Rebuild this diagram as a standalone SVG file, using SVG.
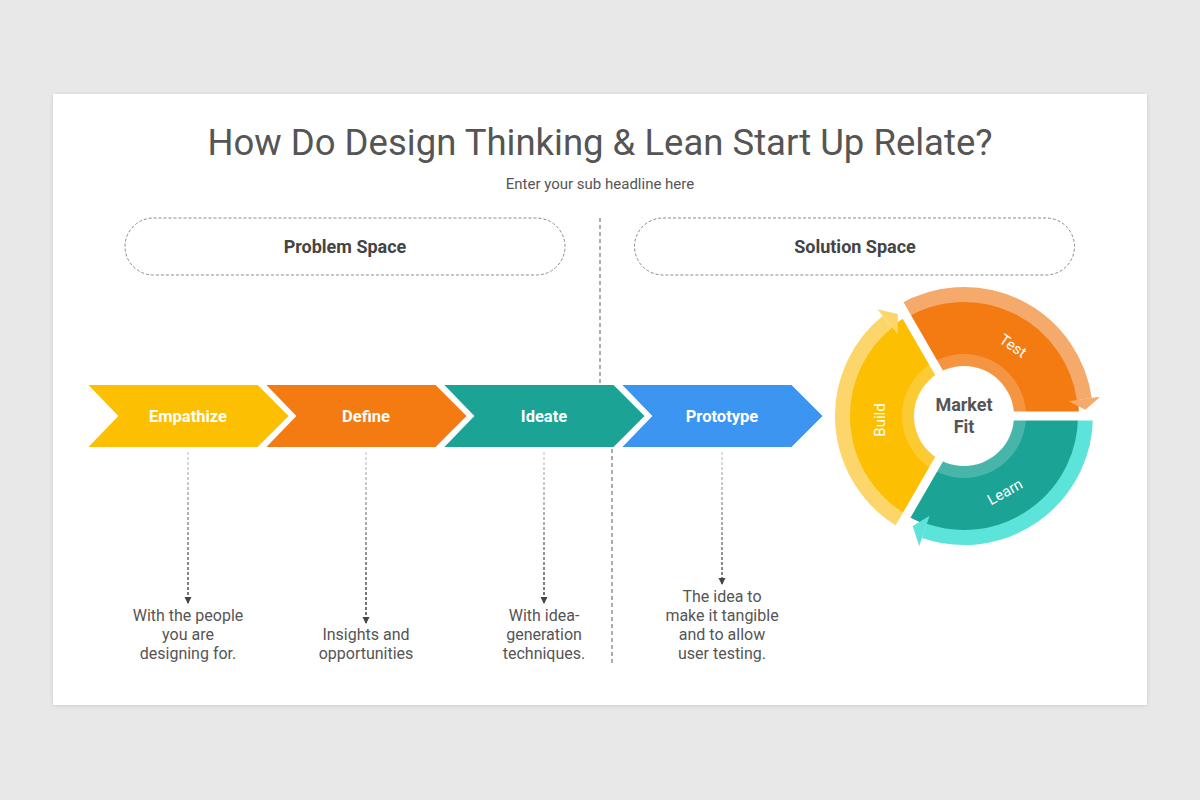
<svg xmlns="http://www.w3.org/2000/svg" width="1200" height="800" viewBox="0 0 1200 800">
  <defs>
    <style>
      .title{font-family:Roboto,"Liberation Sans",sans-serif;font-size:36.5px;fill:#555;text-anchor:middle}
      .sub{font-family:Roboto,"Liberation Sans",sans-serif;font-size:15px;fill:#555;text-anchor:middle}
      .pill{fill:none;stroke:#8a8a8a;stroke-width:1;stroke-dasharray:3 2}
      .pilltxt{font-family:Roboto,"Liberation Sans",sans-serif;font-size:18px;font-weight:bold;fill:#444;text-anchor:middle}
      .chev{stroke:#fff;stroke-width:2}
      .chevtxt{font-family:Roboto,"Liberation Sans",sans-serif;font-size:16.5px;font-weight:bold;fill:#fff;text-anchor:middle}
      .desc{font-family:Roboto,"Liberation Sans",sans-serif;font-size:16px;fill:#555;text-anchor:middle}
      .sep{stroke:#777;stroke-width:1.2;stroke-dasharray:4 3;fill:none}
      .conn{stroke:url(#fade);stroke-width:1.5;stroke-dasharray:3 2;fill:none;marker-end:url(#ah)}
      .band{fill:none;stroke-width:15}
      .gap{stroke:#fff;stroke-width:9}
      .segtxt{font-family:Roboto,"Liberation Sans",sans-serif;font-size:15px;fill:#fff;text-anchor:middle}
      .mf{font-family:Roboto,"Liberation Sans",sans-serif;font-size:18px;font-weight:bold;fill:#555;text-anchor:middle}
    </style>
    <linearGradient id="fade" gradientUnits="userSpaceOnUse" x1="0" y1="450" x2="0" y2="600">
      <stop offset="0" stop-color="#d8d8d8"/>
      <stop offset="1" stop-color="#444"/>
    </linearGradient>
    <marker id="ah" markerWidth="8" markerHeight="8" refX="6" refY="4" orient="auto" markerUnits="userSpaceOnUse">
      <path d="M0,0.5 L7,4 L0,7.5 Z" fill="#444"/>
    </marker>
    <filter id="sh" x="-5%" y="-5%" width="110%" height="110%">
      <feDropShadow dx="0" dy="1" stdDeviation="2" flood-color="#000" flood-opacity="0.12"/>
    </filter>
  </defs>

  <rect x="0" y="0" width="1200" height="800" fill="#e9e8e9"/>
  <rect x="53" y="94" width="1094" height="611" fill="#fff" filter="url(#sh)"/>

  <text class="title" x="600" y="155">How Do Design Thinking &amp; Lean Start Up Relate?</text>
  <text class="sub" x="600" y="189">Enter your sub headline here</text>

  <g id="connectors">
    <line class="sep" x1="600" y1="218" x2="600" y2="383"/>
    <line class="sep" x1="612" y1="449" x2="612" y2="663"/>
    <line class="conn" x1="188" y1="452" x2="188" y2="603"/>
    <line class="conn" x1="366" y1="452" x2="366" y2="623"/>
    <line class="conn" x1="544" y1="452" x2="544" y2="603"/>
    <line class="conn" x1="722" y1="452" x2="722" y2="584"/>
  </g>

  <g id="problem-space">
    <rect class="pill" x="125" y="218" width="440" height="57" rx="28.5"/>
    <text class="pilltxt" x="345" y="252.5">Problem Space</text>
  </g>
  <g id="solution-space">
    <rect class="pill" x="634.5" y="218" width="440" height="57" rx="28.5"/>
    <text class="pilltxt" x="855" y="252.5">Solution Space</text>
  </g>

  <g id="empathize">
    <path class="chev" fill="#fcbf02" d="M86,384 L258,384 L290,416 L258,448 L86,448 L117,416 Z"/>
    <text class="chevtxt" x="188" y="422">Empathize</text>
  </g>
  <g id="define">
    <path class="chev" fill="#f37b12" d="M264,384 L436,384 L468,416 L436,448 L264,448 L295,416 Z"/>
    <text class="chevtxt" x="366" y="422">Define</text>
  </g>
  <g id="ideate">
    <path class="chev" fill="#1ba396" d="M442,384 L614,384 L646,416 L614,448 L442,448 L473,416 Z"/>
    <text class="chevtxt" x="544" y="422">Ideate</text>
  </g>
  <g id="prototype">
    <path class="chev" fill="#3d95f2" d="M620,384 L792,384 L824,416 L792,448 L620,448 L651,416 Z"/>
    <text class="chevtxt" x="722" y="422">Prototype</text>
  </g>

  <g id="desc-empathize">
    <text class="desc" x="188" y="621">With the people</text>
    <text class="desc" x="188" y="640">you are</text>
    <text class="desc" x="188" y="659">designing for.</text>
  </g>
  <g id="desc-define">
    <text class="desc" x="366" y="640">Insights and</text>
    <text class="desc" x="366" y="659">opportunities</text>
  </g>
  <g id="desc-ideate">
    <text class="desc" x="544" y="621">With idea-</text>
    <text class="desc" x="544" y="640">generation</text>
    <text class="desc" x="544" y="659">techniques.</text>
  </g>
  <g id="desc-prototype">
    <text class="desc" x="722" y="602">The idea to</text>
    <text class="desc" x="722" y="621">make it tangible</text>
    <text class="desc" x="722" y="640">and to allow</text>
    <text class="desc" x="722" y="659">user testing.</text>
  </g>

  <g id="cycle">
    <g id="test">
      <path fill="#f37b12" d="M964,416 L906.5,316.4 A115,115 0 0 1 1079,416 Z"/>
      <path class="band" stroke="#f5aa6c" d="M903.25,310.78 A121.5,121.5 0 0 1 1084.32,399.09"/>
      <path fill="#f5aa6c" d="M1068.47,401.32 L1100.16,396.86 L1085.33,409.64 Z"/>
    </g>
    <g id="learn">
      <path fill="#1ba396" d="M964,416 L1079,416 A115,115 0 0 1 906.5,515.6 Z"/>
      <path class="band" stroke="#5ce3da" d="M1085.5,416 A121.5,121.5 0 0 1 924.44,530.88"/>
      <path fill="#5ce3da" d="M929.65,515.75 L919.23,546.01 L912.65,526.12 Z"/>
    </g>
    <g id="build">
      <path fill="#fcbf02" d="M964,416 L906.5,515.6 A115,115 0 0 1 906.5,316.4 Z"/>
      <path class="band" stroke="#fdd66b" d="M903.25,521.22 A121.5,121.5 0 0 1 887.54,321.58"/>
      <path fill="#fdd66b" d="M897.61,334.01 L877.47,309.14 L897.83,314.10 Z"/>
    </g>
    <line class="gap" x1="964" y1="416" x2="1108" y2="416"/>
    <line class="gap" x1="964" y1="416" x2="892" y2="540.7"/>
    <line class="gap" x1="964" y1="416" x2="892" y2="291.3"/>
    <circle cx="964" cy="416" r="62" fill="#fff" fill-opacity="0.2"/>
    <text class="segtxt" transform="translate(1013,346) rotate(35)" dy="5">Test</text>
    <text class="segtxt" transform="translate(1005,492) rotate(-29)" dy="5">Learn</text>
    <text class="segtxt" transform="translate(880,420) rotate(-90)" dy="5">Build</text>
    <g id="market-fit">
      <circle cx="964" cy="416" r="50" fill="#fff"/>
      <text class="mf" x="964" y="411">Market</text>
      <text class="mf" x="964" y="433">Fit</text>
    </g>
  </g>
</svg>
